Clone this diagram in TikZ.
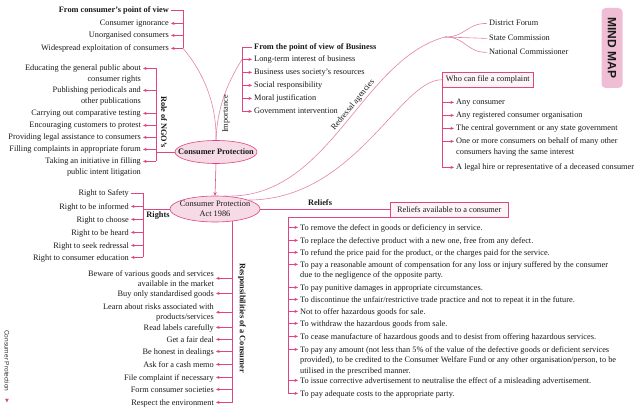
\documentclass[tikz,border=0pt]{standalone}
\usepackage{fontspec}
\setmainfont{Liberation Serif}
\newfontfamily\sansf{Liberation Sans}
\newfontfamily\symf{DejaVu Sans}
\usetikzlibrary{arrows.meta,shapes.geometric}
\definecolor{pk}{RGB}{221,70,128}
\definecolor{pkl}{RGB}{226,130,165}
\definecolor{pkfill}{RGB}{246,218,230}
\definecolor{mmfill}{RGB}{239,190,212}
\definecolor{txt}{RGB}{25,25,25}
\definecolor{boxfill}{RGB}{253,244,248}
% arrow / line from a bracket to an item; optional lift = height of first line above the node's base
\newcommand\ArL[3][2.6pt]{\path ([shift={(2pt,#1)}]#2.base east) coordinate (#2a);\draw[arr] (#2a -| #3) -- (#2a);}
\newcommand\ArLc[2]{\path ([xshift=2pt]#1.east) coordinate (#1a);\draw[arr] (#1a -| #2) -- (#1a);}
\newcommand\LnL[2]{\path ([shift={(2pt,2.6pt)}]#1.base east) coordinate (#1a);\draw[ln] (#1a -| #2) -- (#1a);}
\newcommand\ArR[3][2.6pt]{\path ([shift={(-2pt,#1)}]#2.base west) coordinate (#2a);\draw[arr] (#2a -| #3) -- (#2a);}
\newcommand\LnR[2]{\path ([shift={(-2pt,2.6pt)}]#1.base west) coordinate (#1a);\draw[ln] (#1a -| #2) -- (#1a);}
\begin{document}
\begin{tikzpicture}[x=1pt,y=-1pt,
  font=\fontsize{8.3}{10.5}\selectfont,
  every node/.style={text=txt},
  itemL/.style={anchor=base east, inner sep=0pt, align=right},
  itemR/.style={anchor=base west, inner sep=0pt, align=left},
  lbl/.style={font=\fontsize{8.3}{10.5}\selectfont\bfseries, inner sep=0pt},
  ln/.style={draw=pk, line width=0.55pt},
  arr/.style={ln, -{Stealth[length=3.6pt,width=3.2pt]}},
  crv/.style={draw=pkl, line width=0.6pt},
  ell/.style={ellipse, draw=pk, fill=pkfill, line width=0.6pt, inner sep=0pt},
  lbox/.style={draw=pk, fill=boxfill, line width=0.5pt, inner sep=0pt, minimum height=15pt}]
\useasboundingbox (0,0) rectangle (640,409);

% ---------- ellipses
\node[ell, minimum width=82pt, minimum height=23pt,
  label={[lbl]center:Consumer Protection}] (e1) at (216,152) {};
\node[ell, minimum width=90pt, minimum height=26pt,
  label={[align=center, inner sep=0pt]center:{Consumer Protection\\Act 1986}}] (e2) at (215,209) {};
\draw[arr] (e1.south) -- (e2.north);

% ---------- consumer's point of view
\coordinate (cvx) at (183,0);
\node[itemL,lbl] (cv0) at (169,13) {From consumer's point of view};
\node[itemL] (cv1) at (169,26) {Consumer ignorance};
\node[itemL] (cv2) at (169,38) {Unorganised consumers};
\node[itemL] (cv3) at (169,51) {Widespread exploitation of consumers};
\LnL{cv0}{cvx}\ArL{cv1}{cvx}\ArL{cv2}{cvx}\ArL{cv3}{cvx}
\draw[ln] (cv0a -| cvx) -- (cv3a -| cvx);

% ---------- business point of view
\coordinate (bx) at (242,0);
\node[itemR,lbl] (bv0) at (254,50) {From the point of view of Business};
\node[itemR] (bv1) at (254,62) {Long-term interest of business};
\node[itemR] (bv2) at (254,75) {Business uses society's resources};
\node[itemR] (bv3) at (254,88) {Social responsibility};
\node[itemR] (bv4) at (254,101) {Moral justification};
\node[itemR] (bv5) at (254,114) {Government intervention};
\LnR{bv0}{bx}\ArR{bv1}{bx}\ArR{bv2}{bx}\ArR{bv3}{bx}\ArR{bv4}{bx}\ArR{bv5}{bx}
\draw[ln] (bv0a -| bx) -- (bv5a -| bx);

% ---------- importance Y
\draw[crv] (cv3a -| cvx) .. controls (200,68) and (217,100) .. (e1.north);
\draw[crv] (bv1a -| bx) .. controls (226,85) and (217,110) .. (e1.north);
\node[rotate=90, inner sep=0pt] (imp) at (226,114) {Importance};

% ---------- NGOs
\coordinate (nx) at (156,0);
\node[itemL] (n1) at (141,81.5) {Educating the general public about\\consumer rights};
\node[itemL] (n2) at (141,103.5) {Publishing periodicals and\\other publications};
\node[itemL] (n3) at (141,116) {Carrying out comparative testing};
\node[itemL] (n4) at (141,128) {Encouraging customers to protest};
\node[itemL] (n5) at (141,140) {Providing legal assistance to consumers};
\node[itemL] (n6) at (141,152) {Filling complaints in appropriate forum};
\node[itemL] (n7) at (141,174.5) {Taking an initiative in filling\\public intent litigation};
\ArL[13.1pt]{n1}{nx}\ArL[13.1pt]{n2}{nx}\ArL{n3}{nx}\ArL{n4}{nx}\ArL{n5}{nx}\ArL{n6}{nx}\ArL[13.1pt]{n7}{nx}
\draw[ln] (n1a -| nx) -- (n7a -| nx);
\draw[ln] (e1.west -| nx) -- (e1.west);
\node[lbl, rotate=-90] (ngo) at (164,122) {Role of NGO's};

% ---------- rights
\coordinate (rx) at (143,0);
\node[itemL] (r1) at (129,196) {Right to Safety};
\node[itemL] (r2) at (129,209) {Right to be informed};
\node[itemL] (r3) at (129,222) {Right to choose};
\node[itemL] (r4) at (129,235) {Right to be heard};
\node[itemL] (r5) at (129,248) {Right to seek redressal};
\node[itemL] (r6) at (129,260) {Right to consumer education};
\LnL{r1}{rx}\ArL{r2}{rx}\ArL{r3}{rx}\ArL{r4}{rx}\ArL{r5}{rx}\ArL{r6}{rx}
\draw[ln] (r1a -| rx) -- (r6a -| rx);
\draw[ln] (e2.west -| rx) -- (e2.west);
\node[lbl] (rts) at (158,216) {Rights};

% ---------- responsibilities
\coordinate (px) at (e2.-35);
\node[itemL] (p1) at (214,286.5) {Beware of various goods and services\\available in the market};
\node[itemL] (p2) at (214,296) {Buy only standardised goods};
\node[itemL] (p3) at (214,319.5) {Learn about risks associated with\\products/services};
\node[itemL] (p4) at (214,330) {Read labels carefully};
\node[itemL] (p5) at (214,342) {Get a fair deal};
\node[itemL] (p6) at (214,354) {Be honest in dealings};
\node[itemL] (p7) at (214,367) {Ask for a cash memo};
\node[itemL] (p8) at (214,380) {File complaint if necessary};
\node[itemL] (p9) at (214,392) {Form consumer societies};
\node[itemL] (p10) at (214,405) {Respect the environment};
\ArLc{p1}{px}\ArL{p2}{px}\ArLc{p3}{px}\ArL{p4}{px}\ArL{p5}{px}
\ArL{p6}{px}\ArL{p7}{px}\ArL{p8}{px}\ArL{p9}{px}\ArL{p10}{px}
\draw[ln] (px) -- (p10a -| px);
\node[lbl, rotate=-90] (resp) at (242,318) {Responsibilities of a Consumer};

% ---------- reliefs
\node[lbox, minimum width=118pt, anchor=south west] (rb) at (390,217) {Reliefs available to a consumer};
\draw[ln] (e2.east) -- (e2.east -| rb.west);
\node[lbl] (rl) at (320,203) {Reliefs};
\coordinate (fx) at (288,0);
\node[itemR] (f1) at (300,230) {To remove the defect in goods or deficiency in service.};
\node[itemR] (f2) at (300,243) {To replace the defective product with a new one, free from any defect.};
\node[itemR] (f3) at (300,255) {To refund the price paid for the product, or the charges paid for the service.};
\node[itemR] (f4) at (300,277.5) {To pay a reasonable amount of compensation for any loss or injury suffered by the consumer\\due to the negligence of the opposite party.};
\node[itemR] (f5) at (300,290) {To pay punitive damages in appropriate circumstances.};
\node[itemR] (f6) at (300,302) {To discontinue the unfair/restrictive trade practice and not to repeat it in the future.};
\node[itemR] (f7) at (300,314) {Not to offer hazardous goods for sale.};
\node[itemR] (f8) at (300,326) {To withdraw the hazardous goods from sale.};
\node[itemR] (f9) at (300,339) {To cease manufacture of hazardous goods and to desist from offering hazardous services.};
\node[itemR] (f10) at (300,373) {To pay any amount (not less than 5\% of the value of the defective goods or deficient services\\provided), to be credited to the Consumer Welfare Fund or any other organisation/person, to be\\utilised in the prescribed manner.};
\node[itemR] (f11) at (300,383) {To issue corrective advertisement to neutralise the effect of a misleading advertisement.};
\node[itemR] (f12) at (300,396) {To pay adequate costs to the appropriate party.};
\ArR{f1}{fx}\ArR{f2}{fx}\ArR{f3}{fx}\ArR[13.1pt]{f4}{fx}\ArR{f5}{fx}\ArR{f6}{fx}
\ArR{f7}{fx}\ArR{f8}{fx}\ArR{f9}{fx}\ArR[23.6pt]{f10}{fx}\ArR{f11}{fx}\ArR{f12}{fx}
\draw[ln] (rb.south west) -- (rb.south west -| fx) -- (f12a -| fx);

% ---------- who can file
\node[lbox, minimum width=91pt, anchor=north west] (wb) at (442,72) {Who can file a complaint};
\coordinate (wx) at (wb.south west);
\node[itemR] (w1) at (456,105) {Any consumer};
\node[itemR] (w2) at (456,118) {Any registered consumer organisation};
\node[itemR] (w3) at (456,131) {The central government or any state government};
\node[itemR] (w4) at (456,154.5) {One or more consumers on behalf of many other\\consumers having the same interest};
\node[itemR] (w5) at (456,170) {A legal hire or representative of a deceased consumer};
\ArR{w1}{wx}\ArR{w2}{wx}\ArR{w3}{wx}\ArR[13.1pt]{w4}{wx}\ArR{w5}{wx}
\draw[ln] (wb.south west) -- (w5a -| wx);
\draw[crv] (e2.15) .. controls (355,200) and (400,79) .. (wb.west);

% ---------- redressal agencies
\coordinate (brp) at (445,37);
\coordinate (dcx) at (466,0);
\draw[crv] (e2.53) .. controls (330,200) and (360,60) .. (brp)
  node[pos=0.58, sloped, above, inner sep=1.5pt] (ra) {Redressal agencies};
\node[itemR] (d1) at (489,26) {District Forum};
\node[itemR] (d2) at (489,41) {State Commission};
\node[itemR] (d3) at (489,55) {National Commissioner};
\path ([shift={(-2pt,2.6pt)}]d1.base west) coordinate (d1a);
\path ([shift={(-2pt,2.6pt)}]d2.base west) coordinate (d2a);
\path ([shift={(-2pt,2.6pt)}]d3.base west) coordinate (d3a);
\draw[crv] (brp) .. controls (brp -| dcx) and (d1a -| dcx) .. (d1a);
\draw[crv] (brp) .. controls (brp -| dcx) and (d2a -| dcx) .. (d2a);
\draw[crv] (brp) .. controls (brp -| dcx) and (d3a -| dcx) .. (d3a);

% ---------- mind map tag and side label
\node[rotate=-90, fill=mmfill, rounded corners=4pt, minimum width=80pt, minimum height=21pt,
  font=\sansf\bfseries\fontsize{12}{12}\selectfont] (mm) at (612,48) {MIND MAP};
\node[rotate=-90, anchor=west, inner sep=0pt, font=\sansf\fontsize{6.5}{7}\selectfont,
  text=black!80] (cpl) at (7,330) {Consumer Protection};
\node[inner sep=0pt, font=\symf\fontsize{5}{5}\selectfont, text=pk] (tri) at (7,401) {▼};
\end{tikzpicture}
\end{document}
